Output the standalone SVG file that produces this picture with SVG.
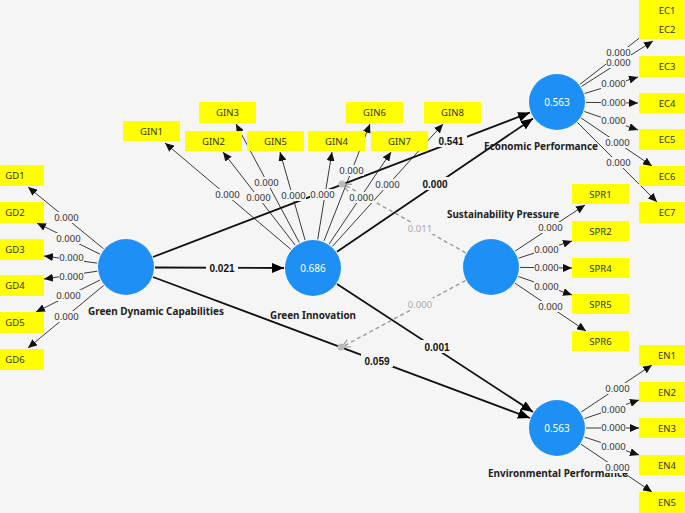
<svg xmlns="http://www.w3.org/2000/svg" width="685" height="513" viewBox="0 0 685 513">
<defs>
<style>
.ind{stroke:#3a3a3a;stroke-width:1;fill:none;marker-end:url(#ah)}
.str{stroke:#111;stroke-width:1.8;fill:none;marker-end:url(#ahb)}
.mod{stroke:#9a9a9a;stroke-width:1.4;stroke-dasharray:4 3;fill:none;marker-end:url(#ahg)}
.lb{fill:#f5f5f5}
.lt{font-family:"Noto Sans","Liberation Sans",sans-serif;font-size:9.5px;fill:#333;text-anchor:middle}
.bt{font-family:"Liberation Sans",Arial,sans-serif;font-size:10px;font-weight:bold;fill:#111;text-anchor:middle}
.gt{font-family:"Noto Sans","Liberation Sans",sans-serif;font-size:9.5px;fill:#aaa;text-anchor:middle}
.lv{fill:#1e90f5}
.lvt{font-family:"Noto Sans","Liberation Sans",sans-serif;font-size:10px;fill:#fff;text-anchor:middle}
.nm{font-family:"Noto Sans","Liberation Sans",sans-serif;font-size:10px;font-weight:bold;fill:#222;text-anchor:middle}
.box{fill:#ffff00}
.bx{font-family:"Noto Sans","Liberation Sans",sans-serif;font-size:9.5px;fill:#333;text-anchor:middle}
</style>
<marker id="ah" markerUnits="userSpaceOnUse" markerWidth="9" markerHeight="8" refX="9" refY="4" orient="auto"><path d="M0,0 L9,4 L0,8 z" fill="#111"/></marker>
<marker id="ahb" markerUnits="userSpaceOnUse" markerWidth="12" markerHeight="10" refX="12" refY="5" orient="auto"><path d="M0,0 L12,5 L0,10 z" fill="#000"/></marker>
<marker id="ahg" markerUnits="userSpaceOnUse" markerWidth="10" markerHeight="10" refX="9" refY="5" orient="auto"><path d="M1,1 L9,5 L1,9" fill="none" stroke="#9a9a9a" stroke-width="1.2"/></marker>
</defs>
<rect x="0" y="0" width="685" height="513" fill="#f5f5f5"/>

<g id="connectors">
<!-- GDC indicators -->
<line class="ind" x1="103.5" y1="248.7" x2="28" y2="187"/>
<line class="ind" x1="100" y1="254.2" x2="37" y2="223"/>
<line class="ind" x1="97.2" y1="263.1" x2="44" y2="256"/>
<line class="ind" x1="97.3" y1="271.2" x2="44" y2="279"/>
<line class="ind" x1="100" y1="280" x2="36" y2="312"/>
<line class="ind" x1="103.6" y1="285.5" x2="28" y2="348"/>
<!-- GI indicators -->
<line class="ind" x1="290.8" y1="249.3" x2="165" y2="143"/>
<line class="ind" x1="295.2" y1="245.1" x2="223" y2="152"/>
<line class="ind" x1="299.3" y1="242.5" x2="236" y2="124"/>
<line class="ind" x1="305.1" y1="240.1" x2="280" y2="152"/>
<line class="ind" x1="317.7" y1="239.4" x2="332" y2="152"/>
<line class="ind" x1="324" y1="240.9" x2="370" y2="124"/>
<line class="ind" x1="329.2" y1="243.9" x2="391" y2="152"/>
<line class="ind" x1="332.4" y1="246.4" x2="443" y2="124"/>
<!-- EP indicators -->
<line x1="580" y1="84.3" x2="642" y2="36" stroke="#3a3a3a" stroke-width="1"/>
<line class="ind" x1="581.5" y1="86.4" x2="653" y2="41"/>
<line class="ind" x1="584.7" y1="93.5" x2="638" y2="77"/>
<line class="ind" x1="586" y1="102.4" x2="638" y2="103"/>
<line class="ind" x1="584.4" y1="111.5" x2="638" y2="130"/>
<line class="ind" x1="581" y1="117.9" x2="652" y2="166"/>
<line class="ind" x1="577.5" y1="122.5" x2="657" y2="202"/>
<!-- SP indicators -->
<line class="ind" x1="515.2" y1="251" x2="585" y2="205"/>
<line class="ind" x1="518.6" y1="258.1" x2="572" y2="241"/>
<line class="ind" x1="520" y1="267.4" x2="572" y2="268"/>
<line class="ind" x1="518.4" y1="276.5" x2="572" y2="295"/>
<line class="ind" x1="515" y1="283.2" x2="586" y2="331"/>
<!-- EnvP indicators -->
<line class="ind" x1="581.2" y1="412" x2="652" y2="365"/>
<line class="ind" x1="584.5" y1="418.6" x2="639" y2="400"/>
<line class="ind" x1="586" y1="428" x2="639" y2="428"/>
<line class="ind" x1="584.6" y1="437.1" x2="639" y2="455"/>
<line class="ind" x1="581" y1="444.2" x2="652" y2="492"/>
<!-- structural paths -->
<line class="str" x1="155" y1="267.5" x2="284" y2="268"/>
<line class="str" x1="153" y1="257" x2="530" y2="112.5"/>
<line class="str" x1="337" y1="251.7" x2="533" y2="118.5"/>
<line class="str" x1="337" y1="284" x2="533" y2="412"/>
<line class="str" x1="153" y1="277" x2="530" y2="418"/>
<!-- moderating effects -->
<line class="mod" x1="465.7" y1="252.8" x2="343" y2="184"/>
<circle cx="342" cy="184" r="3.5" fill="#bbb"/>
<line class="mod" x1="465.4" y1="280.6" x2="342" y2="347"/>
<circle cx="341" cy="347" r="3.5" fill="#bbb"/>

<!-- labels: GDC indicators -->
<rect class="lb" x="54" y="212" width="25" height="11"/><text class="lt" x="66.5" y="221">0.000</text>
<rect class="lb" x="56" y="233" width="25" height="11"/><text class="lt" x="68.5" y="242">0.000</text>
<rect class="lb" x="59" y="252" width="25" height="11"/><text class="lt" x="71.5" y="261">0.000</text>
<rect class="lb" x="59" y="271" width="25" height="11"/><text class="lt" x="71.5" y="280">0.000</text>
<rect class="lb" x="56" y="290" width="25" height="11"/><text class="lt" x="68.5" y="299">0.000</text>
<rect class="lb" x="54" y="311" width="25" height="11"/><text class="lt" x="66.5" y="320">0.000</text>
<!-- labels: GI indicators -->
<rect class="lb" x="215" y="189" width="25" height="11"/><text class="lt" x="227.5" y="198">0.000</text>
<rect class="lb" x="246" y="192" width="25" height="11"/><text class="lt" x="258.5" y="201">0.000</text>
<rect class="lb" x="254" y="177" width="25" height="11"/><text class="lt" x="266.5" y="186">0.000</text>
<rect class="lb" x="281" y="190" width="25" height="11"/><text class="lt" x="293.5" y="199">0.000</text>
<rect class="lb" x="310" y="189" width="25" height="11"/><text class="lt" x="322.5" y="198">0.000</text>
<rect class="lb" x="339" y="165" width="25" height="11"/><text class="lt" x="351.5" y="174">0.000</text>
<rect class="lb" x="349" y="192" width="25" height="11"/><text class="lt" x="361.5" y="201">0.000</text>
<rect class="lb" x="375" y="179" width="25" height="11"/><text class="lt" x="387.5" y="188">0.000</text>
<!-- labels: EP indicators -->
<rect class="lb" x="606" y="57" width="25" height="11"/><text class="lt" x="618.5" y="66">0.000</text>
<rect class="lb" x="606" y="47" width="25" height="11"/><text class="lt" x="618.5" y="56">0.000</text>
<rect class="lb" x="601" y="78" width="25" height="11"/><text class="lt" x="613.5" y="87">0.000</text>
<rect class="lb" x="601" y="97" width="25" height="11"/><text class="lt" x="613.5" y="106">0.000</text>
<rect class="lb" x="601" y="115" width="25" height="11"/><text class="lt" x="613.5" y="124">0.000</text>
<rect class="lb" x="605" y="137" width="25" height="11"/><text class="lt" x="617.5" y="146">0.000</text>
<rect class="lb" x="606" y="157" width="25" height="11"/><text class="lt" x="618.5" y="166">0.000</text>
<!-- labels: SP indicators -->
<rect class="lb" x="538" y="222" width="25" height="11"/><text class="lt" x="550.5" y="231">0.000</text>
<rect class="lb" x="534" y="244" width="25" height="11"/><text class="lt" x="546.5" y="253">0.000</text>
<rect class="lb" x="534" y="262" width="25" height="11"/><text class="lt" x="546.5" y="271">0.000</text>
<rect class="lb" x="534" y="281" width="25" height="11"/><text class="lt" x="546.5" y="290">0.000</text>
<rect class="lb" x="538" y="301" width="25" height="11"/><text class="lt" x="550.5" y="310">0.000</text>
<!-- labels: EnvP indicators -->
<rect class="lb" x="605" y="383" width="25" height="11"/><text class="lt" x="617.5" y="392">0.000</text>
<rect class="lb" x="601" y="404" width="25" height="11"/><text class="lt" x="613.5" y="413">0.000</text>
<rect class="lb" x="601" y="422" width="25" height="11"/><text class="lt" x="613.5" y="431">0.000</text>
<rect class="lb" x="601" y="441" width="25" height="11"/><text class="lt" x="613.5" y="450">0.000</text>
<!-- labels: structural -->
<rect class="lb" x="206" y="261" width="32" height="13"/><text class="bt" x="222" y="271.5">0.021</text>
<rect class="lb" x="435" y="134" width="32" height="13"/><text class="bt" x="451" y="144.5">0.541</text>
<rect class="lb" x="419" y="177" width="32" height="13"/><text class="bt" x="435" y="187.5">0.000</text>
<rect class="lb" x="421" y="340" width="32" height="13"/><text class="bt" x="437" y="350.5">0.001</text>
<rect class="lb" x="361" y="354" width="32" height="13"/><text class="bt" x="377" y="364.5">0.059</text>
<rect class="lb" x="407" y="222" width="26" height="12"/><text class="gt" x="420" y="231.5">0.011</text>
<rect class="lb" x="407" y="298" width="26" height="12"/><text class="gt" x="420" y="307.5">0.000</text>
</g>

<g id="node-gdc"><circle class="lv" cx="126" cy="267" r="28"/><text class="nm" x="156" y="315" textLength="136" lengthAdjust="spacingAndGlyphs">Green Dynamic Capabilities</text></g>
<g id="node-gi"><circle class="lv" cx="313" cy="268" r="28"/><text class="lvt" x="313" y="271.5">0.686</text><text class="nm" x="313" y="319" textLength="86" lengthAdjust="spacingAndGlyphs">Green Innovation</text></g>
<g id="node-ep"><circle class="lv" cx="557" cy="102" r="28"/><text class="lvt" x="557" y="105.5">0.563</text><text class="nm" x="541" y="150" textLength="114" lengthAdjust="spacingAndGlyphs">Economic Performance</text></g>
<g id="node-sp"><circle class="lv" cx="491" cy="267" r="28"/><text class="nm" x="503" y="218" textLength="112" lengthAdjust="spacingAndGlyphs">Sustainability Pressure</text></g>
<g id="node-envp"><circle class="lv" cx="557" cy="428" r="28"/><text class="lvt" x="557" y="431.5">0.563</text><text class="nm" x="558" y="477" textLength="140" lengthAdjust="spacingAndGlyphs">Environmental Performance</text>
<rect class="lb" x="605" y="462" width="25" height="11"/><text class="lt" x="617.5" y="471">0.000</text></g>

<g id="ind-gd1"><rect class="box" x="0" y="165" width="44" height="21"/><text class="bx" x="15" y="179">GD1</text></g>
<g id="ind-gd2"><rect class="box" x="0" y="202" width="44" height="21"/><text class="bx" x="15" y="216">GD2</text></g>
<g id="ind-gd3"><rect class="box" x="0" y="239" width="44" height="21"/><text class="bx" x="15" y="253">GD3</text></g>
<g id="ind-gd4"><rect class="box" x="0" y="275" width="44" height="21"/><text class="bx" x="15" y="289">GD4</text></g>
<g id="ind-gd5"><rect class="box" x="0" y="312" width="44" height="21"/><text class="bx" x="15" y="326">GD5</text></g>
<g id="ind-gd6"><rect class="box" x="0" y="349" width="44" height="21"/><text class="bx" x="15" y="363">GD6</text></g>

<g id="ind-gin1"><rect class="box" x="123" y="121" width="57" height="20"/><text class="bx" x="151.5" y="134.5">GIN1</text></g>
<g id="ind-gin3"><rect class="box" x="199" y="102" width="57" height="21"/><text class="bx" x="227.5" y="116">GIN3</text></g>
<g id="ind-gin2"><rect class="box" x="185" y="131" width="57" height="20"/><text class="bx" x="213.5" y="144.5">GIN2</text></g>
<g id="ind-gin5"><rect class="box" x="247" y="131" width="57" height="20"/><text class="bx" x="275.5" y="144.5">GIN5</text></g>
<g id="ind-gin4"><rect class="box" x="308" y="131" width="57" height="20"/><text class="bx" x="336.5" y="144.5">GIN4</text></g>
<g id="ind-gin6"><rect class="box" x="346" y="102" width="57" height="21"/><text class="bx" x="374.5" y="116">GIN6</text></g>
<g id="ind-gin7"><rect class="box" x="371" y="131" width="57" height="20"/><text class="bx" x="399.5" y="144.5">GIN7</text></g>
<g id="ind-gin8"><rect class="box" x="424" y="102" width="57" height="21"/><text class="bx" x="452.5" y="116">GIN8</text></g>

<g id="ind-ec1"><rect class="box" x="639" y="-1" width="46" height="21"/><text class="bx" x="667" y="14">EC1</text></g>
<g id="ind-ec2"><rect class="box" x="639" y="19" width="46" height="20"/><text class="bx" x="667" y="33">EC2</text></g>
<g id="ind-ec3"><rect class="box" x="639" y="56" width="46" height="21"/><text class="bx" x="667" y="70">EC3</text></g>
<g id="ind-ec4"><rect class="box" x="639" y="93" width="46" height="20"/><text class="bx" x="667" y="106.5">EC4</text></g>
<g id="ind-ec5"><rect class="box" x="639" y="129" width="46" height="21"/><text class="bx" x="667" y="143">EC5</text></g>
<g id="ind-ec6"><rect class="box" x="639" y="166" width="46" height="20"/><text class="bx" x="667" y="179.5">EC6</text></g>
<g id="ind-ec7"><rect class="box" x="639" y="202" width="46" height="21"/><text class="bx" x="667" y="216">EC7</text></g>

<g id="ind-spr1"><rect class="box" x="572" y="184" width="57" height="20"/><text class="bx" x="600.5" y="197.5">SPR1</text></g>
<g id="ind-spr2"><rect class="box" x="572" y="221" width="57" height="20"/><text class="bx" x="600.5" y="234.5">SPR2</text></g>
<g id="ind-spr4"><rect class="box" x="572" y="258" width="57" height="20"/><text class="bx" x="600.5" y="271.5">SPR4</text></g>
<g id="ind-spr5"><rect class="box" x="572" y="294" width="57" height="20"/><text class="bx" x="600.5" y="307.5">SPR5</text></g>
<g id="ind-spr6"><rect class="box" x="572" y="331" width="57" height="20"/><text class="bx" x="600.5" y="344.5">SPR6</text></g>

<g id="ind-en1"><rect class="box" x="639" y="345" width="46" height="20"/><text class="bx" x="667" y="358.5">EN1</text></g>
<g id="ind-en2"><rect class="box" x="639" y="382" width="46" height="20"/><text class="bx" x="667" y="395.5">EN2</text></g>
<g id="ind-en3"><rect class="box" x="639" y="418" width="46" height="20"/><text class="bx" x="667" y="431.5">EN3</text></g>
<g id="ind-en4"><rect class="box" x="639" y="455" width="46" height="20"/><text class="bx" x="667" y="468.5">EN4</text></g>
<g id="ind-en5"><rect class="box" x="639" y="492" width="46" height="21"/><text class="bx" x="667" y="506">EN5</text></g>
</svg>
